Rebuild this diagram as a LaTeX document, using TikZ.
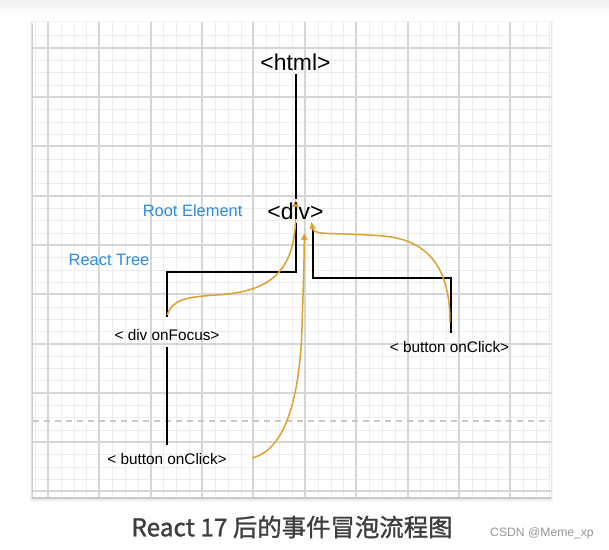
\documentclass[tikz,border=0pt]{standalone}
\usepackage{fontspec}
\setmainfont{Liberation Sans}
\newfontfamily\cjk[FakeBold=1.2]{Noto Sans CJK SC}
\usetikzlibrary{arrows.meta}
\definecolor{minorgrid}{RGB}{237,237,237}
\definecolor{majorgrid}{RGB}{214,214,214}
\definecolor{bluelab}{RGB}{45,140,222}
\definecolor{bubble}{RGB}{224,160,45}
\definecolor{captioncol}{RGB}{62,62,62}
\definecolor{csdncol}{RGB}{150,150,150}
\definecolor{dashcol}{RGB}{200,200,200}
\tikzset{
  tagbig/.style={inner sep=0pt, font=\fontsize{23}{26}\selectfont},
  tagsmall/.style={inner sep=0pt, font=\fontsize{15.4}{18}\selectfont},
  bluetext/.style={inner sep=0pt, text=bluelab, font=\fontsize{16.5}{19}\selectfont},
  treeline/.style={line width=2pt, black},
  bubbleline/.style={line width=1.5pt, bubble, -{Triangle[length=7bp,width=6bp]}},
}
\begin{document}
\begin{tikzpicture}[x=1bp,y=-1bp]
\useasboundingbox (0,0) rectangle (609,550);
% page background
\fill[white] (0,0) rectangle (609,550);
\shade[top color={rgb,255:red,242;green,242;blue,242}, bottom color=white, draw=none] (0,0) rectangle (609,15);
% card shadow
\fill[black, opacity=0.04] (30,21) rectangle (553,502);
\fill[black, opacity=0.06] (31,22) rectangle (552,500);
\fill[black, opacity=0.12] (32,24) rectangle (551,498.5);
% card
\fill[white] (33,22) rectangle (550.5,496.5);
% minor grid
\foreach \i in {-1,...,39} \draw[minorgrid, line width=1.2bp] ({round(47.8+12.85*\i)+0.5},22) -- ({round(47.8+12.85*\i)+0.5},496.5);
\foreach \j in {-1,...,36} \draw[minorgrid, line width=1.2bp] (33,{round(47.7+12.325*\j)+0.5}) -- (550.5,{round(47.7+12.325*\j)+0.5});
% major grid
\foreach \k in {0,...,9} \draw[majorgrid, line width=2bp] ({round(47.8+51.4*\k)},22) -- ({round(47.8+51.4*\k)},496.5);
\foreach \k in {0,...,9} \draw[majorgrid, line width=2bp] (33,{round(47.7+49.3*\k)}) -- (550.5,{round(47.7+49.3*\k)});
% dashed separator
\draw[dashcol, line width=1.2pt, dash pattern=on 6bp off 5bp] (33,421) -- (550.5,421);

% tree coordinates
\coordinate (htmlbot) at (295.5,74);
\coordinate (divtop) at (295.5,199);
\coordinate (divbot) at (295.5,223);
\coordinate (jL) at (295.5,271.7);
\coordinate (focustop) at (167.3,316.7);
\coordinate (focusbot) at (167.3,346.7);
\coordinate (btnLtop) at (167.3,445);
\coordinate (rtop) at (313,228);
\coordinate (jR) at (313,278.3);
\coordinate (cR) at (451,278.3);
\coordinate (btnRtop) at (451,333);

% black tree
\draw[treeline] (htmlbot) -- (divtop);
\draw[treeline] (divbot) -- (jL) -| (focustop);
\draw[treeline] (focusbot) -- (btnLtop);
\draw[treeline] (rtop) -- (jR) -- (cR) -- (btnRtop);

% bubbling curves
\coordinate (b1s) at (167.3,315);
\coordinate (b1m) at (216.7,295);
\coordinate (b1e) at (295.5,200);
\draw[bubbleline] (b1s) .. controls (172,300) and (185,297) .. (b1m)
  .. controls (260,292) and (293,280) .. (295.5,222) -- (b1e);
\coordinate (b2s) at (252,458);
\coordinate (b2m) at (301.5,340);
\coordinate (b2e) at (304.3,233);
\draw[bubbleline] (b2s) .. controls (285,450) and (298,400) .. (b2m)
  .. controls (303,300) and (304.2,260) .. (b2e);
\coordinate (b3s) at (450,322);
\coordinate (b3m) at (383,236);
\coordinate (b3e) at (311.5,222);
\draw[bubbleline] (b3s) .. controls (450,270) and (430,240) .. (b3m)
  .. controls (335,232) and (314,236) .. (b3e);

% labels
\node[tagbig] (html) at (295.5,62) {<html>};
\node[tagbig] (div) at (295.5,211) {<div>};
\node[bluetext] (root) at (192.6,210.5) {Root Element};
\node[bluetext] (rtree) at (109,260) {React Tree};
\node[tagsmall] (focus) at (167,335) {< div onFocus>};
\node[tagsmall] (btnR) at (449.5,347) {< button onClick>};
\node[tagsmall] (btnL) at (167,459) {< button onClick>};
\node[inner sep=0pt, text=captioncol, font=\cjk\fontsize{24.5}{28}\selectfont] (cap) at (292,527) {React 17 后的事件冒泡流程图};
\node[inner sep=0pt, text=csdncol, font=\fontsize{12.2}{14}\selectfont] (csdn) at (542,533.5) {CSDN @Meme\_xp};
\end{tikzpicture}
\end{document}
